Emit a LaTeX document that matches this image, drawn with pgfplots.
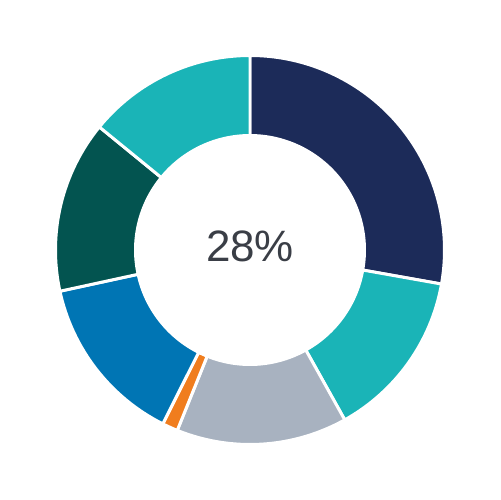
\documentclass[border=0pt]{standalone}
\usepackage{pgfplots}
\pgfplotsset{compat=1.18}
\usepackage{pgfplotstable}
\usepackage{fontspec}
\setmainfont{Liberation Sans}

\definecolor{cNavy}{RGB}{28,43,89}
\definecolor{cTeal}{RGB}{26,180,183}
\definecolor{cGray}{RGB}{168,178,192}
\definecolor{cOrange}{RGB}{240,125,30}
\definecolor{cBlue}{RGB}{0,117,180}
\definecolor{cDeep}{RGB}{3,84,80}
\definecolor{txtgray}{RGB}{58,62,70}

% shares in percent, clockwise from 12 o'clock
\pgfplotstableread{
share colour
27.8  cNavy
14.1  cTeal
14.2  cGray
1.3   cOrange
14.2  cBlue
14.3  cDeep
14.1  cTeal
}\donut
\pgfplotstablecreatecol[create col/expr accum={\pgfmathaccuma+\thisrow{share}}{0}]{cum}\donut

\def\Ro{3.89}
\def\Ri{2.29}

\begin{document}
\begin{tikzpicture}
\begin{axis}[
    hide axis,
    scale only axis,
    x=1cm, y=1cm,
    xmin=-5, xmax=5,
    ymin=-5, ymax=5,
    clip=false,
]
% keep the full square canvas
\path (axis cs:-5,-5) rectangle (axis cs:5,5);
\pgfplotsinvokeforeach{0,...,6}{
    \pgfplotstablegetelem{#1}{cum}\of\donut
    \pgfmathsetmacro\en{90-3.6*\pgfplotsretval}
    \pgfplotstablegetelem{#1}{share}\of\donut
    \pgfmathsetmacro\st{\en+3.6*\pgfplotsretval}
    \pgfplotstablegetelem{#1}{colour}\of\donut
    \let\cl\pgfplotsretval
    \edef\seg{\noexpand\filldraw[fill=\cl, draw=white, line width=1.7pt]
        (axis cs:{\Ro*cos(\st)},{\Ro*sin(\st)})
        arc[start angle=\st, end angle=\en, radius=\Ro cm]
        -- (axis cs:{\Ri*cos(\en)},{\Ri*sin(\en)})
        arc[start angle=\en, end angle=\st, radius=\Ri cm] -- cycle;}
    \seg
}
\node[font=\fontsize{25}{30}\selectfont, text=txtgray] at (axis cs:0,0.08) {28\%};
\end{axis}
\end{tikzpicture}
\end{document}
